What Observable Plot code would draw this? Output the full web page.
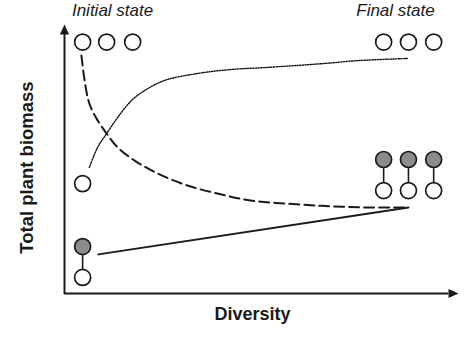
<!DOCTYPE html>
<html>
<head>
<meta charset="utf-8">
<script src="https://cdn.jsdelivr.net/npm/d3@7"></script>
<script src="https://cdn.jsdelivr.net/npm/@observablehq/plot@0.6"></script>
<style>
  html, body { margin: 0; padding: 0; background: #fff; }
  svg { display: block; }
</style>
</head>
<body>
<div id="chart"></div>
<script>
// Conceptual diagram: diversity (0–100) vs total plant biomass (0–100), arbitrary units
const axisX = [0, 0, 97.2];
const axisY = [96.6, 0, 0];

const dashedX = [4.3, 5.1, 6.3, 8.4, 10.7, 13.5, 17.8, 23.6, 31.2, 38.8, 47.2, 59.9, 68.3, 76.9, 87.3];
const dashedY = [88.8, 79.5, 70.9, 64.6, 59.7, 54.5, 49.6, 44.8, 40.3, 37.3, 34.7, 33.2, 32.5, 32.1, 32.1];

const dottedX = [6.3, 8.4, 10.7, 13.5, 17.0, 20.3, 25.4, 33.8, 42.4, 50.8, 65.7, 74.4, 87.1];
const dottedY = [47.0, 54.5, 59.7, 65.7, 72.0, 75.7, 79.5, 82.1, 83.6, 84.3, 85.8, 86.9, 87.7];

const solidX = [8.6, 87.3];
const solidY = [14.6, 32.1];

const whiteX = [4.6, 10.7, 17.3, 81.0, 87.3, 93.7, 4.6, 81.0, 87.3, 93.7, 4.6];
const whiteY = [93.8, 93.8, 93.8, 93.8, 93.8, 93.8, 41.0, 38.4, 38.4, 38.4, 6.0];

const grayX = [81.0, 87.3, 93.7, 4.6];
const grayY = [50.0, 50.0, 50.0, 17.5];
// each grey plant is linked to the white plant below it
const stemWhiteY = [38.4, 38.4, 38.4, 6.0];

const labels = ["Initial state", "Final state"];
const labelX = [12.2, 84.0];
const labelY = 105.4;

const xTitle = "Diversity";
const yTitle = "Total plant biomass";

const tipX = [0, 100];
const tipY = [100.4, 0];
const tipRotate = [0, 90];

const idx = a => a.map((_, i) => i);
const ink = "#1a1a1a";
const font = "Liberation Sans, Arial, Helvetica, sans-serif";

const arrowHead = {
  draw(context) {
    context.moveTo(0, 0);
    context.lineTo(4.6, 10);
    context.lineTo(-4.6, 10);
    context.closePath();
  }
};

const chart = Plot.plot({
  width: 474,
  height: 349,
  marginLeft: 64,
  marginRight: 16,
  marginTop: 25,
  marginBottom: 56,
  x: { domain: [0, 100], axis: null },
  y: { domain: [0, 100], axis: null },
  style: { fontFamily: font, background: "#fff" },
  marks: [
    Plot.line(idx(axisX), { x: i => axisX[i], y: i => axisY[i], stroke: ink, strokeWidth: 2 }),
    Plot.dot(idx(tipX), { x: i => tipX[i], y: i => tipY[i], rotate: i => tipRotate[i], symbol: arrowHead, fill: ink, stroke: "none", r: 5 }),

    Plot.line(idx(dottedX), { x: i => dottedX[i], y: i => dottedY[i], curve: "catmull-rom", stroke: "#111", strokeWidth: 1.4, strokeDasharray: "1.2,1.4" }),
    Plot.line(idx(dashedX), { x: i => dashedX[i], y: i => dashedY[i], curve: "catmull-rom", stroke: ink, strokeWidth: 2, strokeDasharray: "10,5" }),
    Plot.line(idx(solidX), { x: i => solidX[i], y: i => solidY[i], stroke: ink, strokeWidth: 2 }),

    Plot.link(idx(grayX), { x1: i => grayX[i], y1: i => grayY[i], x2: i => grayX[i], y2: i => stemWhiteY[i], stroke: ink, strokeWidth: 1.6 }),
    Plot.dot(idx(whiteX), { x: i => whiteX[i], y: i => whiteY[i], r: 8, fill: "#fff", stroke: ink, strokeWidth: 1.7 }),
    Plot.dot(idx(grayX), { x: i => grayX[i], y: i => grayY[i], r: 8, fill: "#8c8c8c", stroke: ink, strokeWidth: 1.7 }),

    Plot.text(labels, { x: (d, i) => labelX[i], y: labelY, text: d => d, fontSize: 17, fontStyle: "italic", fill: ink }),
    Plot.text([xTitle], { x: 47.7, y: -7.9, text: d => d, fontSize: 18, fontWeight: "bold", fill: ink }),
    Plot.text([yTitle], { x: -9.4, y: 47.0, text: d => d, rotate: -90, fontSize: 18.5, fontWeight: "bold", fill: ink })
  ]
});

document.getElementById("chart").appendChild(chart);
</script>
</body>
</html>
